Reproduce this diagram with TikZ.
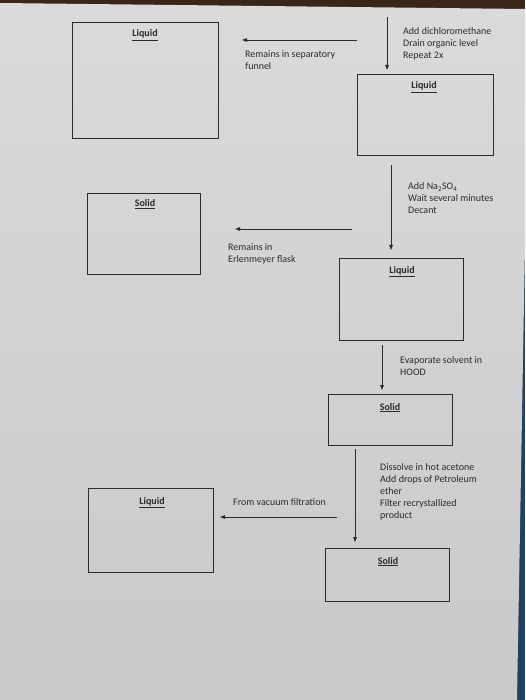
\documentclass[tikz,border=0pt]{standalone}
\usepackage{fontspec}
\setmainfont{Carlito}
\usetikzlibrary{arrows.meta}
\definecolor{ink}{HTML}{2B2B2B}
\definecolor{pagetop}{HTML}{DADADB}
\definecolor{pagebot}{HTML}{C9C9CB}
\definecolor{topbg}{HTML}{3A2519}
\definecolor{rightbg}{HTML}{22415C}
\begin{document}
\begin{tikzpicture}[x=1pt,y=-1pt,
  box/.style={draw=ink, line width=0.9pt, inner sep=0pt, anchor=north west},
  boxlbl/.style={font=\fontsize{10}{12}\selectfont\bfseries, text=ink, inner sep=0pt, anchor=base},
  txt/.style={font=\fontsize{10}{12}\selectfont, text=ink, inner sep=0pt, align=left, anchor=north west},
  flow/.style={draw=ink, line width=0.9pt, -{Triangle[length=5pt,width=3.6pt]}}
]
\useasboundingbox (0,0) rectangle (525,700);
% surroundings and page
\fill[topbg] (0,0) rectangle (525,20);
\fill[rightbg] (500,200) rectangle (525,700);
\shade[top color=pagetop, bottom color=pagebot]
  (0,3) -- (525,9) -- (525,245) -- (517,700) -- (0,700) -- cycle;

% boxes
\node[box, minimum width=146pt, minimum height=116pt] (b1) at (72,22) {};
\node[box, minimum width=136pt, minimum height=81pt] (b2) at (357,74) {};
\node[box, minimum width=113pt, minimum height=81pt] (b3) at (87,193) {};
\node[box, minimum width=124pt, minimum height=82pt] (b4) at (339,258) {};
\node[box, minimum width=124pt, minimum height=51pt] (b5) at (328,394) {};
\node[box, minimum width=125pt, minimum height=84pt] (b6) at (88,488) {};
\node[box, minimum width=124pt, minimum height=53pt] (b7) at (325,548) {};

% box labels
\node[boxlbl] (l1) at (145,37) {\underline{Liquid}};
\node[boxlbl] (l2) at (424,89) {\underline{Liquid}};
\node[boxlbl] (l3) at (145,207) {\underline{Solid}};
\node[boxlbl] (l4) at (402,273) {\underline{Liquid}};
\node[boxlbl] (l5) at (390,410) {\underline{Solid}};
\node[boxlbl] (l6) at (152,504) {\underline{Liquid}};
\node[boxlbl] (l7) at (388,564) {\underline{Solid}};

% texts (top of first line = baseline - 7.5)
\node[txt] (t1) at (403,27.5) {Add dichloromethane\\Drain organic level\\Repeat 2x};
\node[txt] (t2) at (245,50.5) {Remains in separatory\\funnel};
\node[txt] (t3) at (408,182.5) {Add Na\textsubscript{2}SO\textsubscript{4}\\Wait several minutes\\Decant};
\node[txt] (t4) at (228,243.5) {Remains in\\Erlenmeyer flask};
\node[txt] (t5) at (400,356.5) {Evaporate solvent in\\HOOD};
\node[txt] (t6) at (380,463.5) {Dissolve in hot acetone\\Add drops of Petroleum\\ether\\Filter recrystallized\\product};
\node[txt] (t7) at (233,498.5) {From vacuum filtration};

% free ends
\coordinate (v1s) at (387,17);
\coordinate (v1e) at (387,70);
\coordinate (h1s) at (357,40);
\coordinate (h1e) at (242,40);
\coordinate (v2s) at (391,165);
\coordinate (v2e) at (391,250);
\coordinate (h2s) at (352,229);
\coordinate (h2e) at (235,229);
\coordinate (v3s) at (382,345);
\coordinate (v3e) at (382,390);
\coordinate (v4s) at (355,449);
\coordinate (v4e) at (355,542);
\coordinate (h4s) at (337,517);
\coordinate (h4e) at (220,517);

% connectors
\draw[flow] (v1s) -- (v1e);
\draw[flow] (h1s) -- (h1e);
\draw[flow] (v2s) -- (v2e);
\draw[flow] (h2s) -- (h2e);
\draw[flow] (v3s) -- (v3e);
\draw[flow] (v4s) -- (v4e);
\draw[flow] (h4s) -- (h4e);
\end{tikzpicture}
\end{document}
